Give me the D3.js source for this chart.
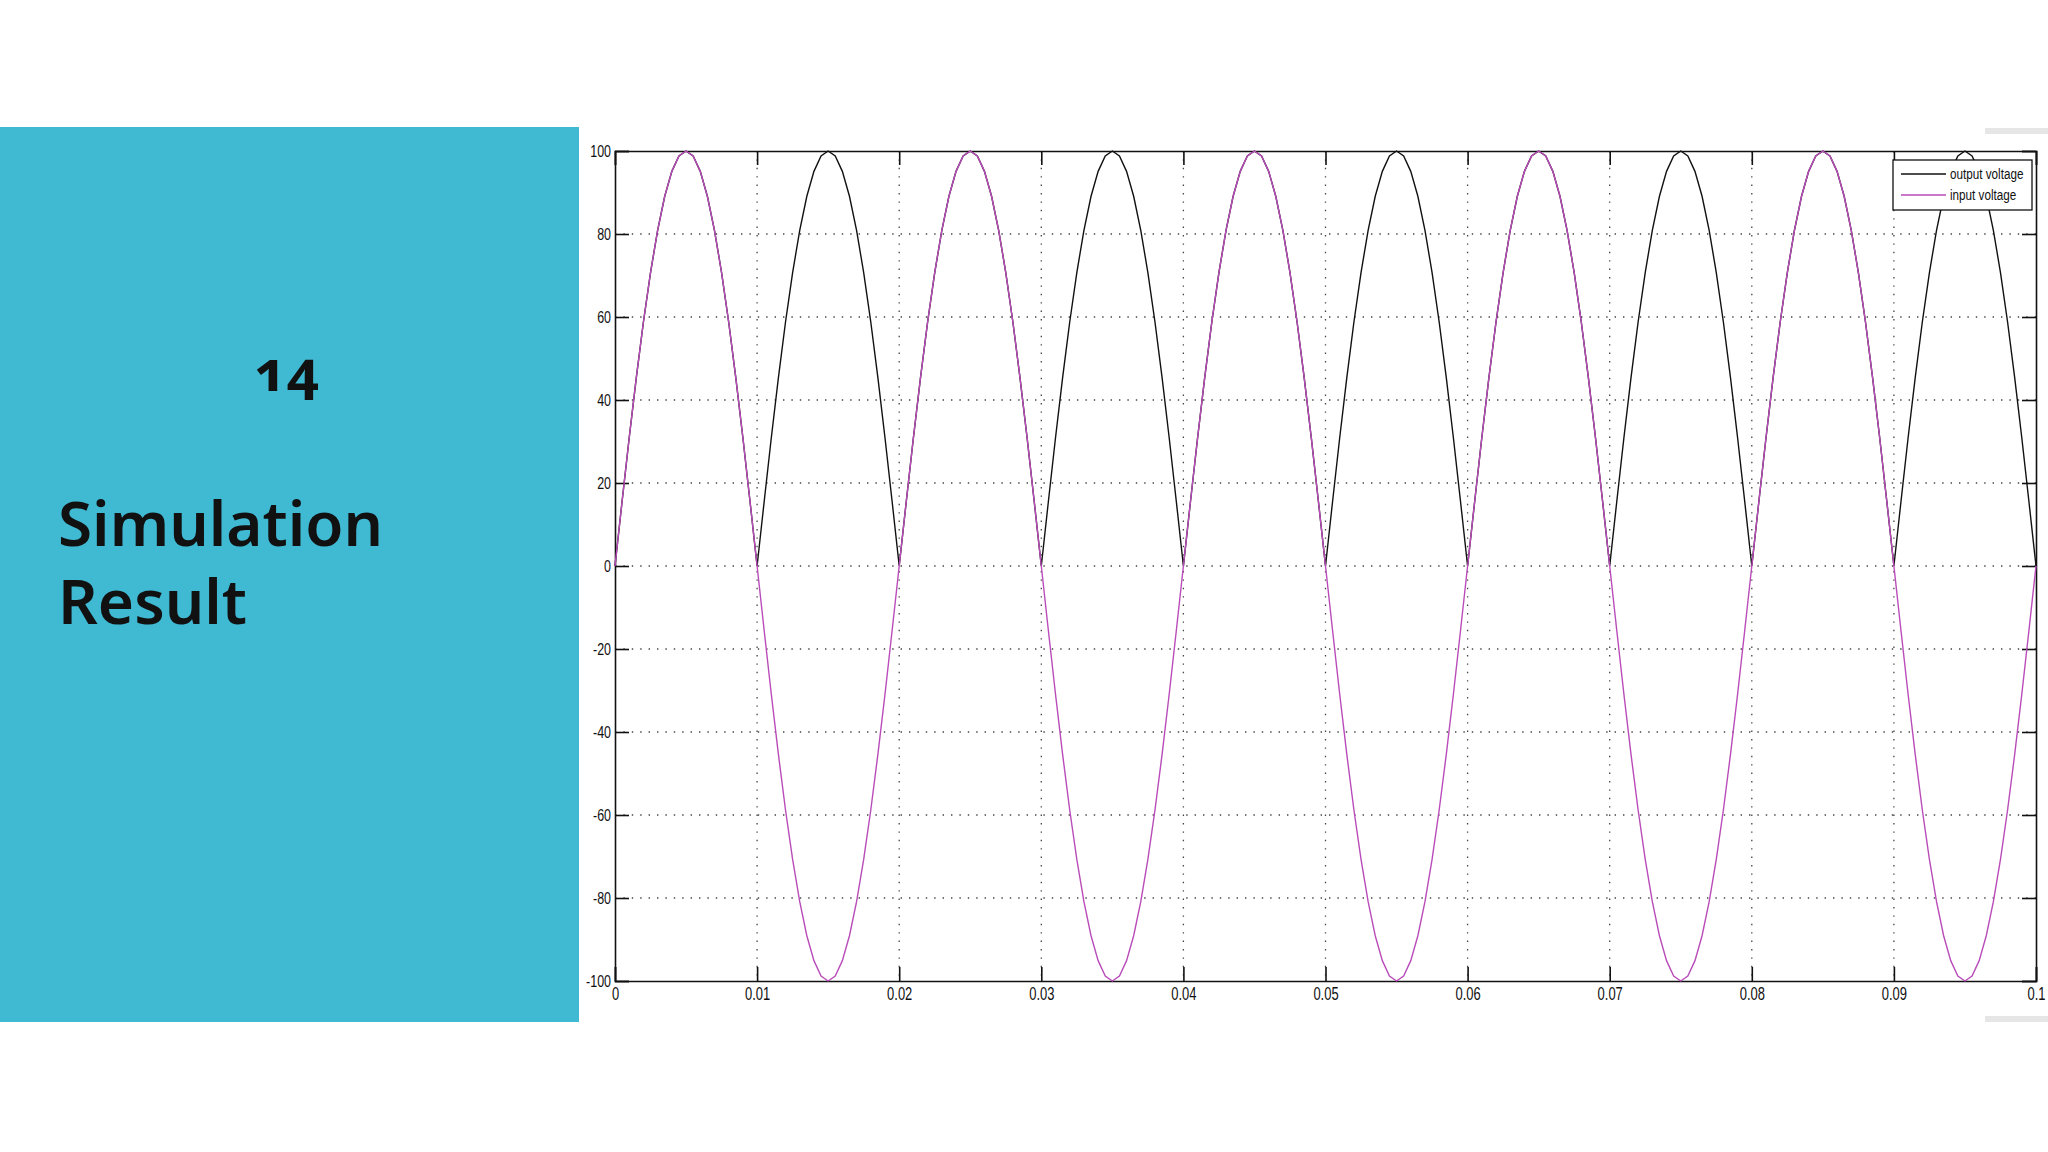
<!DOCTYPE html>
<html>
<meta charset="utf-8">
<head>
<script src="https://cdn.jsdelivr.net/npm/d3@7/dist/d3.min.js"></script>
<style>
  body { margin: 0; background: #fff; }
  svg { display: block; }
  .tick-label { font-family: "Liberation Sans", Arial, sans-serif; fill: #111; }
</style>
</head>
<body>
<div id="slide"></div>
<script>

// sampled waveforms (one sample every 0.0005 s)
var sampleStep = 0.0005;
var inputVoltage = [
  0, 15.6, 30.9, 45.4, 58.8, 70.7, 80.9, 89.1, 95.1, 98.8, 100, 98.8, 95.1, 89.1, 80.9, 70.7, 58.8, 45.4, 30.9, 15.6,
  0, -15.6, -30.9, -45.4, -58.8, -70.7, -80.9, -89.1, -95.1, -98.8, -100, -98.8, -95.1, -89.1, -80.9, -70.7, -58.8, -45.4, -30.9, -15.6,
  0, 15.6, 30.9, 45.4, 58.8, 70.7, 80.9, 89.1, 95.1, 98.8, 100, 98.8, 95.1, 89.1, 80.9, 70.7, 58.8, 45.4, 30.9, 15.6,
  0, -15.6, -30.9, -45.4, -58.8, -70.7, -80.9, -89.1, -95.1, -98.8, -100, -98.8, -95.1, -89.1, -80.9, -70.7, -58.8, -45.4, -30.9, -15.6,
  0, 15.6, 30.9, 45.4, 58.8, 70.7, 80.9, 89.1, 95.1, 98.8, 100, 98.8, 95.1, 89.1, 80.9, 70.7, 58.8, 45.4, 30.9, 15.6,
  0, -15.6, -30.9, -45.4, -58.8, -70.7, -80.9, -89.1, -95.1, -98.8, -100, -98.8, -95.1, -89.1, -80.9, -70.7, -58.8, -45.4, -30.9, -15.6,
  0, 15.6, 30.9, 45.4, 58.8, 70.7, 80.9, 89.1, 95.1, 98.8, 100, 98.8, 95.1, 89.1, 80.9, 70.7, 58.8, 45.4, 30.9, 15.6,
  0, -15.6, -30.9, -45.4, -58.8, -70.7, -80.9, -89.1, -95.1, -98.8, -100, -98.8, -95.1, -89.1, -80.9, -70.7, -58.8, -45.4, -30.9, -15.6,
  0, 15.6, 30.9, 45.4, 58.8, 70.7, 80.9, 89.1, 95.1, 98.8, 100, 98.8, 95.1, 89.1, 80.9, 70.7, 58.8, 45.4, 30.9, 15.6,
  0, -15.6, -30.9, -45.4, -58.8, -70.7, -80.9, -89.1, -95.1, -98.8, -100, -98.8, -95.1, -89.1, -80.9, -70.7, -58.8, -45.4, -30.9, -15.6,
  0
];
var outputVoltage = [
  0, 15.6, 30.9, 45.4, 58.8, 70.7, 80.9, 89.1, 95.1, 98.8, 100, 98.8, 95.1, 89.1, 80.9, 70.7, 58.8, 45.4, 30.9, 15.6,
  0, 15.6, 30.9, 45.4, 58.8, 70.7, 80.9, 89.1, 95.1, 98.8, 100, 98.8, 95.1, 89.1, 80.9, 70.7, 58.8, 45.4, 30.9, 15.6,
  0, 15.6, 30.9, 45.4, 58.8, 70.7, 80.9, 89.1, 95.1, 98.8, 100, 98.8, 95.1, 89.1, 80.9, 70.7, 58.8, 45.4, 30.9, 15.6,
  0, 15.6, 30.9, 45.4, 58.8, 70.7, 80.9, 89.1, 95.1, 98.8, 100, 98.8, 95.1, 89.1, 80.9, 70.7, 58.8, 45.4, 30.9, 15.6,
  0, 15.6, 30.9, 45.4, 58.8, 70.7, 80.9, 89.1, 95.1, 98.8, 100, 98.8, 95.1, 89.1, 80.9, 70.7, 58.8, 45.4, 30.9, 15.6,
  0, 15.6, 30.9, 45.4, 58.8, 70.7, 80.9, 89.1, 95.1, 98.8, 100, 98.8, 95.1, 89.1, 80.9, 70.7, 58.8, 45.4, 30.9, 15.6,
  0, 15.6, 30.9, 45.4, 58.8, 70.7, 80.9, 89.1, 95.1, 98.8, 100, 98.8, 95.1, 89.1, 80.9, 70.7, 58.8, 45.4, 30.9, 15.6,
  0, 15.6, 30.9, 45.4, 58.8, 70.7, 80.9, 89.1, 95.1, 98.8, 100, 98.8, 95.1, 89.1, 80.9, 70.7, 58.8, 45.4, 30.9, 15.6,
  0, 15.6, 30.9, 45.4, 58.8, 70.7, 80.9, 89.1, 95.1, 98.8, 100, 98.8, 95.1, 89.1, 80.9, 70.7, 58.8, 45.4, 30.9, 15.6,
  0, 15.6, 30.9, 45.4, 58.8, 70.7, 80.9, 89.1, 95.1, 98.8, 100, 98.8, 95.1, 89.1, 80.9, 70.7, 58.8, 45.4, 30.9, 15.6,
  0
];
var xTicks = [0, 0.01, 0.02, 0.03, 0.04, 0.05, 0.06, 0.07, 0.08, 0.09, 0.1];
var xTickLabels = ["0", "0.01", "0.02", "0.03", "0.04", "0.05", "0.06", "0.07", "0.08", "0.09", "0.1"];
var yTicks = [-100, -80, -60, -40, -20, 0, 20, 40, 60, 80, 100];
var legendLabels = ["output voltage", "input voltage"];
var slideNumber = "14";
var titleLines = ["Simulation", "Result"];

var W = 2048, H = 1152;
var svg = d3.select("#slide").append("svg").attr("width", W).attr("height", H);

// teal side panel
svg.append("rect").attr("x", 0).attr("y", 127).attr("width", 579).attr("height", 895).attr("fill", "#40b9d3");

svg.append("text")
    .attr("x", 254).attr("y", 391)
    .style("font-family", "'Noto Sans', sans-serif")
    .style("font-weight", 700)
    .style("font-size", "56px")
    .style("font-variant-numeric", "oldstyle-nums")
    .attr("fill", "#111")
    .text(slideNumber);

svg.selectAll("text.title").data(titleLines).enter()
    .append("text").attr("class", "title")
    .attr("x", 58)
    .attr("y", function(d, i){ return 546 + i * 78; })
    .style("font-family", "'Noto Sans', sans-serif")
    .style("font-weight", 600)
    .style("font-size", "62px")
    .attr("fill", "#111")
    .text(function(d){ return d; });

// little gray bars on the right edge
svg.append("rect").attr("x", 1985).attr("y", 128).attr("width", 63).attr("height", 6).attr("fill", "#e6e6e6");
svg.append("rect").attr("x", 1985).attr("y", 1016).attr("width", 63).attr("height", 6).attr("fill", "#e6e6e6");

// ++++++++++ plot ++++++++++
var plotLeft = 615, plotRight = 2036, plotTop = 151, plotBottom = 981;
var x = d3.scaleLinear().domain([0, 0.1]).range([plotLeft, plotRight]);
var y = d3.scaleLinear().domain([-100, 100]).range([plotBottom, plotTop]);
var inputColor = "#b94cb9";

var plot = svg.append("g");
plot.append("rect").attr("x", plotLeft).attr("y", plotTop)
    .attr("width", plotRight - plotLeft).attr("height", plotBottom - plotTop).attr("fill", "#fff");

// dotted grid
plot.selectAll("line.vgrid").data(xTicks.slice(1, -1)).enter()
    .append("line").attr("class", "vgrid")
    .attr("x1", function(d){ return x(d); }).attr("x2", function(d){ return x(d); })
    .attr("y1", plotTop).attr("y2", plotBottom)
    .attr("stroke", "#444").attr("stroke-width", 1.3).attr("stroke-dasharray", "1.4,7");
plot.selectAll("line.hgrid").data(yTicks.slice(1, -1)).enter()
    .append("line").attr("class", "hgrid")
    .attr("y1", function(d){ return y(d); }).attr("y2", function(d){ return y(d); })
    .attr("x1", plotLeft).attr("x2", plotRight)
    .attr("stroke", "#444").attr("stroke-width", 1.3).attr("stroke-dasharray", "1.4,7");

// axes with inward ticks on all four sides
var tk = 14;
var xAxisB = d3.axisBottom(x).tickValues(xTicks).tickSize(-tk).tickPadding(6)
    .tickFormat(function(d, i){ return xTickLabels[i]; });
var xAxisT = d3.axisTop(x).tickValues(xTicks).tickSize(-tk).tickFormat("");
var yAxisL = d3.axisLeft(y).tickValues(yTicks).tickSize(-tk).tickPadding(4)
    .tickFormat(function(d){ return String(d); });
var yAxisR = d3.axisRight(y).tickValues(yTicks).tickSize(-tk).tickFormat("");

function styleAxis(g) {
  g.select(".domain").attr("stroke", "#111").attr("stroke-width", 1.6);
  g.selectAll(".tick line").attr("stroke", "#111").attr("stroke-width", 1.6);
  g.selectAll(".tick text").attr("class", "tick-label").attr("fill", "#111");
}

// squeeze labels horizontally like the narrow MATLAB font
function narrow(sel, sx) {
  sel.each(function(){
    var t = d3.select(this);
    var tx = +t.attr("x") || 0;
    t.attr("x", 0).attr("transform", "translate(" + tx + ",0) scale(" + sx + ",1)");
  });
}

var gxb = plot.append("g").attr("transform", "translate(0," + plotBottom + ")").call(xAxisB).call(styleAxis);
gxb.selectAll(".tick text").style("font-size", "18px").call(narrow, 0.72);
plot.append("g").attr("transform", "translate(0," + plotTop + ")").call(xAxisT).call(styleAxis);
var gyl = plot.append("g").attr("transform", "translate(" + plotLeft + ",0)").call(yAxisL).call(styleAxis);
gyl.selectAll(".tick text").style("font-size", "16px").call(narrow, 0.78);
plot.append("g").attr("transform", "translate(" + plotRight + ",0)").call(yAxisR).call(styleAxis);

// waveforms
var line = d3.line()
    .x(function(d, i){ return x(i * sampleStep); })
    .y(function(d){ return y(d); });

plot.append("path").datum(outputVoltage)
    .attr("d", line).attr("fill", "none").attr("stroke", "#111").attr("stroke-width", 1.4);
plot.append("path").datum(inputVoltage)
    .attr("d", line).attr("fill", "none").attr("stroke", inputColor).attr("stroke-width", 1.4);

// legend
var lg = plot.append("g");
lg.append("rect").attr("x", 1893).attr("y", 160).attr("width", 139).attr("height", 50)
    .attr("fill", "#fff").attr("stroke", "#111").attr("stroke-width", 1.3);
var legendColors = ["#111", inputColor];
lg.selectAll("line.lg").data(legendLabels).enter()
    .append("line").attr("class", "lg")
    .attr("x1", 1901).attr("x2", 1946)
    .attr("y1", function(d, i){ return 174 + i * 21; })
    .attr("y2", function(d, i){ return 174 + i * 21; })
    .attr("stroke", function(d, i){ return legendColors[i]; })
    .attr("stroke-width", 1.4);
lg.selectAll("text.lg").data(legendLabels).enter()
    .append("text").attr("class", "lg tick-label")
    .attr("x", 0)
    .attr("transform", function(d, i){ return "translate(1950," + (174 + i * 21) + ") scale(0.78,1)"; })
    .attr("dy", "0.35em")
    .style("font-size", "15px")
    .text(function(d){ return d; });

</script>
</body>
</html>
